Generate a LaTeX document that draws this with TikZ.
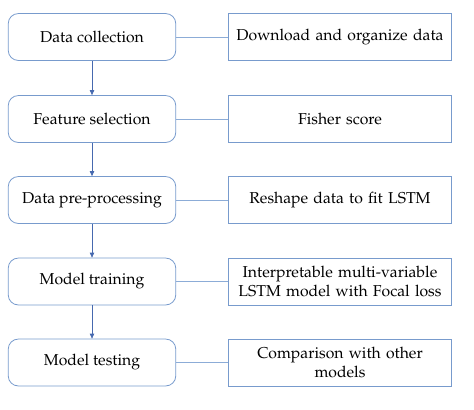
\documentclass[tikz,border=0pt]{standalone}
\usepackage[T1]{fontenc}
\usepackage{mathpazo}
\usepackage{tikz}
\usetikzlibrary{arrows.meta, positioning}
\usepackage{xcolor}
\definecolor{boxblue}{RGB}{120,155,205}
\definecolor{arrowblue}{RGB}{70,105,175}
\definecolor{lineblue}{RGB}{140,172,215}

\begin{document}
\begin{tikzpicture}[x=0.8pt, y=-0.8pt,
    stage/.style={draw=boxblue, line width=0.65pt, rounded corners=8pt, minimum width=134pt, minimum height=37.5pt, align=center, font=\fontsize{12.6}{15}\selectfont},
    detail/.style={draw=boxblue, line width=0.65pt, minimum width=177pt, minimum height=37.5pt, align=center, font=\fontsize{12.6}{15}\selectfont, text width=172pt},
    flow/.style={arrowblue, line width=0.55pt, -{Triangle[length=4pt, width=3.5pt]}},
    link/.style={lineblue, line width=0.55pt}]
    \useasboundingbox (0,0) rectangle (474,409);

    % left column: the steps
    \node[stage] (collect) at (92,37) {Data collection};
    \node[stage] (select) at (92,119) {Feature selection};
    \node[stage] (prep) at (92,200) {Data pre-processing};
    \node[stage] (train) at (92,281.5) {Model training};
    \node[stage] (test) at (92,362.5) {Model testing};

    % right column: what each step does
    \node[detail] (download) at (340,37) {Download and organize data};
    \node[detail] (fisher) at (340,119) {Fisher score};
    \node[detail] (reshape) at (340,200) {Reshape data to fit LSTM};
    \node[detail] (lstm) at (340,281.5) {Interpretable multi-variable\\LSTM model with Focal loss};
    \node[detail] (compare) at (340,362.5) {Comparison with other\\models};

    \draw[flow] (collect) -- (select);
    \draw[flow] (select) -- (prep);
    \draw[flow] (prep) -- (train);
    \draw[flow] (train) -- (test);

    \draw[link] (collect) -- (download);
    \draw[link] (select) -- (fisher);
    \draw[link] (prep) -- (reshape);
    \draw[link] (train) -- (lstm);
    \draw[link] (test) -- (compare);
\end{tikzpicture}
\end{document}
